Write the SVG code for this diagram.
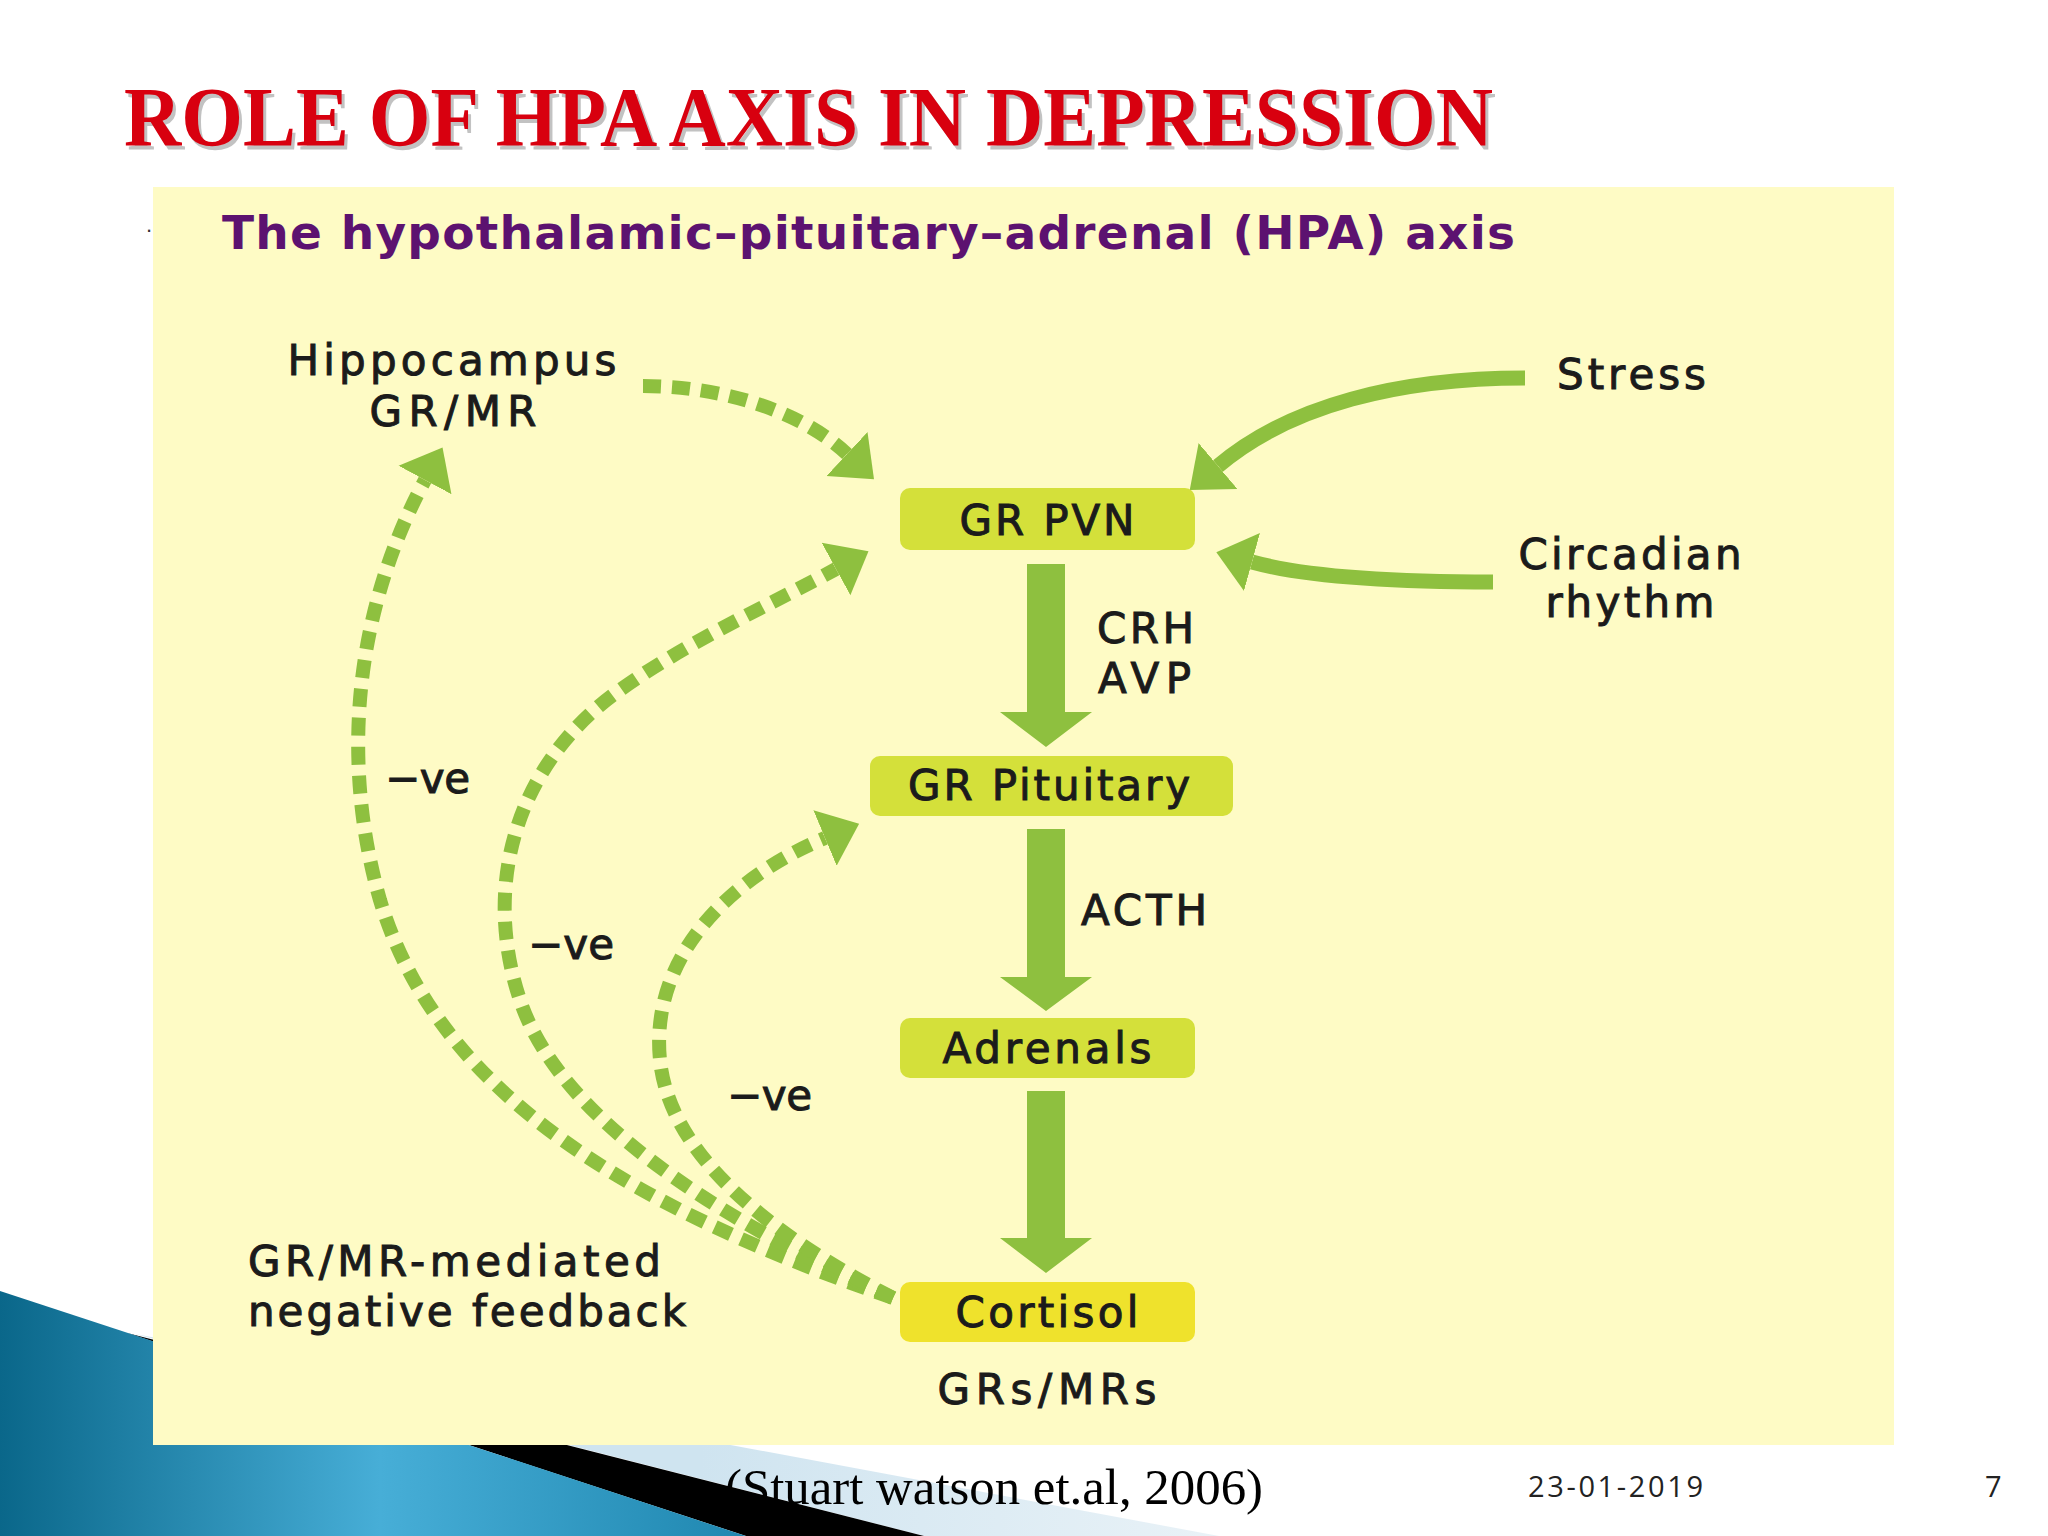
<svg xmlns="http://www.w3.org/2000/svg" width="2048" height="1536" viewBox="0 0 2048 1536">
  <defs>
    <style>
      .lbl { font-family: "DejaVu Sans", "Open Sans", sans-serif; font-weight: 400; font-size: 42px; fill: #1b1b1b; stroke: #1b1b1b; stroke-width: 1px; }
      .box { fill: #D4E03A; }
      .boxc { fill: #EFE22C; }
      .dash { fill: none; stroke: #8EC03F; stroke-width: 14; stroke-dasharray: 18 11; }
      .solid { fill: none; stroke: #8EC03F; stroke-width: 15; }
      .blk { fill: #8EC03F; }
    </style>
    <marker id="head" markerUnits="userSpaceOnUse" viewBox="0 -32 40 64" refX="0" refY="0" markerWidth="40" markerHeight="64" orient="auto">
      <path d="M 37 0 L 0 -30 L 0 30 Z" fill="#8EC03F"/>
    </marker>
    <linearGradient id="blue" x1="0" y1="0" x2="760" y2="0" gradientUnits="userSpaceOnUse">
      <stop offset="0" stop-color="#0A678A"/>
      <stop offset="0.5" stop-color="#47AED7"/>
      <stop offset="1" stop-color="#1E86AF"/>
    </linearGradient>
    <linearGradient id="lblue" x1="700" y1="0" x2="1220" y2="0" gradientUnits="userSpaceOnUse">
      <stop offset="0" stop-color="#CFE4F0"/>
      <stop offset="1" stop-color="#E9F2F7"/>
    </linearGradient>
  </defs>

  <rect x="0" y="0" width="2048" height="1536" fill="#FFFFFF"/>

  <!-- background decoration -->
  <g id="decoration">
    <polygon points="135,1334 1219,1536 924,1536" fill="url(#lblue)"/>
    <polygon points="127,1333 924,1536 746,1536" fill="#000000"/>
    <polygon points="0,1291 746,1536 0,1536" fill="url(#blue)"/>
  </g>

  <!-- slide title -->
  <g id="title">
    <text x="127" y="150" font-family="'Liberation Serif', 'Times New Roman', serif" font-weight="700" font-size="84" fill="#7a7a7a" opacity="0.45" textLength="1369" lengthAdjust="spacingAndGlyphs">ROLE OF HPA AXIS IN DEPRESSION</text>
    <text x="124" y="146" font-family="'Liberation Serif', 'Times New Roman', serif" font-weight="700" font-size="84" fill="#D8000F" textLength="1369" lengthAdjust="spacingAndGlyphs">ROLE OF HPA AXIS IN DEPRESSION</text>
  </g>

  <!-- figure panel -->
  <rect id="panel" x="153" y="187" width="1741" height="1258" fill="#FEFBC5"/>
  <text x="146" y="232" font-family="'Liberation Sans', sans-serif" font-size="22" fill="#333">.</text>

  <g id="subtitle">
    <text x="222" y="249" font-family="'DejaVu Sans', 'Open Sans', sans-serif" font-weight="700" font-size="47" fill="#5C1270" textLength="1293">The hypothalamic–pituitary–adrenal (HPA) axis</text>
  </g>

  <!-- connectors -->
  <g id="connectors">
    <!-- dashed negative feedback arrows -->
    <path class="dash" d="M 643 386 C 720 386, 800 410, 847 454" marker-end="url(#head)"/>
    <path class="dash" d="M 893 1298 C 640 1210, 440 1100, 380 900 C 340 760, 355 610, 425 480" marker-end="url(#head)"/>
    <path class="dash" d="M 893 1298 C 720 1220, 560 1120, 520 1000 C 480 880, 520 760, 620 690 C 690 640, 770 605, 836 569" marker-end="url(#head)"/>
    <path class="dash" d="M 893 1298 C 780 1240, 670 1160, 660 1060 C 650 960, 725 880, 825 838" marker-end="url(#head)"/>
    <!-- stress and circadian inputs -->
    <path class="solid" d="M 1525 378 C 1400 378, 1290 405, 1218 466" marker-end="url(#head)"/>
    <path class="solid" d="M 1493 582 C 1400 582, 1310 578, 1252 562" marker-end="url(#head)"/>
    <!-- block arrows down the axis -->
    <polygon class="blk" points="1027,564 1065,564 1065,712 1092,712 1046,747 1000,712 1027,712"/>
    <polygon class="blk" points="1027,829 1065,829 1065,977 1092,977 1046,1011 1000,977 1027,977"/>
    <polygon class="blk" points="1027,1091 1065,1091 1065,1238 1092,1238 1046,1273 1000,1238 1027,1238"/>
  </g>

  <!-- nodes -->
  <g id="node-hippocampus">
    <text class="lbl" x="452" y="375" text-anchor="middle" textLength="329">Hippocampus</text>
    <text class="lbl" x="453" y="426" text-anchor="middle" textLength="167">GR/MR</text>
  </g>
  <g id="node-stress">
    <text class="lbl" x="1557" y="389" textLength="149">Stress</text>
  </g>
  <g id="node-circadian">
    <text class="lbl" x="1630" y="569" text-anchor="middle" textLength="223">Circadian</text>
    <text class="lbl" x="1630" y="617" text-anchor="middle" textLength="169">rhythm</text>
  </g>
  <g id="node-grpvn">
    <rect class="box" x="900" y="488" width="295" height="62" rx="10"/>
    <text class="lbl" x="1047" y="535" text-anchor="middle" textLength="175">GR PVN</text>
  </g>
  <g id="label-crh">
    <text class="lbl" x="1097" y="643" textLength="97">CRH</text>
    <text class="lbl" x="1098" y="693" textLength="93">AVP</text>
  </g>
  <g id="node-pituitary">
    <rect class="box" x="870" y="756" width="363" height="60" rx="10"/>
    <text class="lbl" x="1049" y="800" text-anchor="middle" textLength="282">GR Pituitary</text>
  </g>
  <g id="label-acth">
    <text class="lbl" x="1081" y="925" textLength="126">ACTH</text>
  </g>
  <g id="node-adrenals">
    <rect class="box" x="900" y="1018" width="295" height="60" rx="10"/>
    <text class="lbl" x="1047" y="1063" text-anchor="middle" textLength="209">Adrenals</text>
  </g>
  <g id="node-cortisol">
    <rect class="boxc" x="900" y="1282" width="295" height="60" rx="10"/>
    <text class="lbl" x="1047" y="1327" text-anchor="middle" textLength="183">Cortisol</text>
    <text class="lbl" x="1047" y="1404" text-anchor="middle" textLength="219">GRs/MRs</text>
  </g>
  <g id="labels-ve">
    <text class="lbl" x="385" y="793" textLength="85">−ve</text>
    <text class="lbl" x="528" y="959" textLength="86">−ve</text>
    <text class="lbl" x="727" y="1110" textLength="85">−ve</text>
  </g>
  <g id="node-feedback">
    <text class="lbl" x="248" y="1276" textLength="413">GR/MR-mediated</text>
    <text class="lbl" x="248" y="1326" textLength="438">negative feedback</text>
  </g>

  <!-- footer -->
  <g id="footer">
    <text x="725" y="1504" font-family="'Liberation Serif', 'Times New Roman', serif" font-size="51" fill="#000" textLength="538" lengthAdjust="spacingAndGlyphs">(Stuart watson et.al, 2006)</text>
    <text x="1528" y="1497" font-family="'Open Sans', 'Liberation Sans', sans-serif" font-size="29" fill="#222" textLength="175">23-01-2019</text>
    <text x="1985" y="1497" font-family="'Open Sans', 'Liberation Sans', sans-serif" font-size="29" fill="#222">7</text>
  </g>
</svg>
